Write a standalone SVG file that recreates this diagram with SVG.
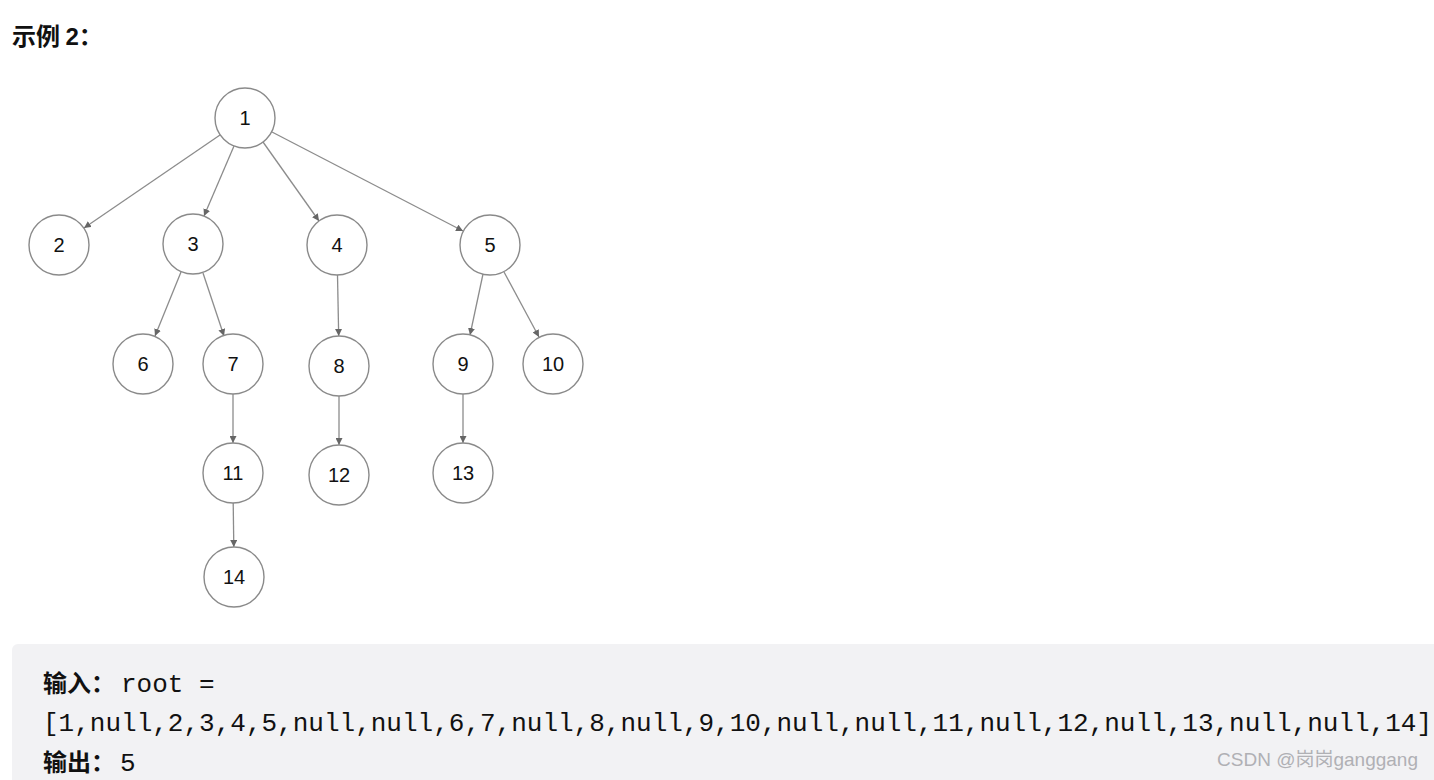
<svg xmlns="http://www.w3.org/2000/svg" width="1434" height="780" viewBox="0 0 1434 780">
<style>
.n circle{fill:#fff;stroke:#8a8a8a;stroke-width:1.4}
.n text{font-family:"Liberation Sans",Arial,sans-serif;font-size:20px;fill:#111;text-anchor:middle}
.e line{stroke:#8c8c8c;stroke-width:1.3;marker-end:url(#a)}
.m{font-family:"Liberation Mono","Noto Sans CJK SC",monospace;font-size:26px;fill:#111}
.b{font-family:"Noto Sans CJK SC",sans-serif;font-weight:bold;font-size:24px;fill:#111}
</style>
<defs><marker id="a" viewBox="0 0 10 10" refX="10" refY="5" markerWidth="7" markerHeight="7" orient="auto" markerUnits="userSpaceOnUse"><path d="M0,0L10,5L0,10z" fill="#666"/></marker></defs>
<rect width="1434" height="780" fill="#fff"/>
<text x="12" y="45" class="b" font-size="22">示例 <tspan font-family="Liberation Sans">2</tspan>：</text>
<g class="e">
<line x1="220" y1="135" x2="84" y2="228"/>
<line x1="234" y1="146" x2="204" y2="216"/>
<line x1="263" y1="142" x2="319" y2="221"/>
<line x1="272" y1="132" x2="463" y2="231"/>
<line x1="181" y1="272" x2="155" y2="336"/>
<line x1="203" y1="273" x2="224" y2="336"/>
<line x1="337.5" y1="275" x2="338.7" y2="336"/>
<line x1="483" y1="274" x2="470" y2="335"/>
<line x1="504" y1="272" x2="539" y2="337"/>
<line x1="233" y1="394" x2="233" y2="443"/>
<line x1="339" y1="396" x2="339" y2="445"/>
<line x1="463" y1="394" x2="463" y2="443"/>
<line x1="233.2" y1="503" x2="233.8" y2="547"/>
</g>
<g class="n" id="n1"><circle cx="245" cy="118" r="30"/><text x="245" y="125">1</text></g>
<g class="n" id="n2"><circle cx="59" cy="245" r="30"/><text x="59" y="252">2</text></g>
<g class="n" id="n3"><circle cx="193" cy="244" r="30"/><text x="193" y="251">3</text></g>
<g class="n" id="n4"><circle cx="337" cy="245" r="30"/><text x="337" y="252">4</text></g>
<g class="n" id="n5"><circle cx="490" cy="245" r="30"/><text x="490" y="252">5</text></g>
<g class="n" id="n6"><circle cx="143" cy="364" r="30"/><text x="143" y="371">6</text></g>
<g class="n" id="n7"><circle cx="233" cy="364" r="30"/><text x="233" y="371">7</text></g>
<g class="n" id="n8"><circle cx="339" cy="366" r="30"/><text x="339" y="373">8</text></g>
<g class="n" id="n9"><circle cx="463" cy="364" r="30"/><text x="463" y="371">9</text></g>
<g class="n" id="n10"><circle cx="553" cy="364" r="30"/><text x="553" y="371">10</text></g>
<g class="n" id="n11"><circle cx="233" cy="473" r="30"/><text x="233" y="480">11</text></g>
<g class="n" id="n12"><circle cx="339" cy="475" r="30"/><text x="339" y="482">12</text></g>
<g class="n" id="n13"><circle cx="463" cy="473" r="30"/><text x="463" y="480">13</text></g>
<g class="n" id="n14"><circle cx="234" cy="577" r="30"/><text x="234" y="584">14</text></g>
<rect x="12" y="644" width="1430" height="150" rx="6" fill="#f2f2f4"/>
<text x="43" y="692" class="b">输入：</text><text x="121" y="692" class="m">root =</text>
<text x="43" y="731" class="m" textLength="1389" lengthAdjust="spacingAndGlyphs">[1,null,2,3,4,5,null,null,6,7,null,8,null,9,10,null,null,11,null,12,null,13,null,null,14]</text>
<text x="43" y="771" class="b">输出：</text><text x="120" y="771" class="m">5</text>
<text x="1418" y="766" text-anchor="end" font-family="Liberation Sans,Noto Sans CJK SC,sans-serif" font-size="19" fill="#b0b0b4">CSDN @岗岗ganggang</text>
</svg>
